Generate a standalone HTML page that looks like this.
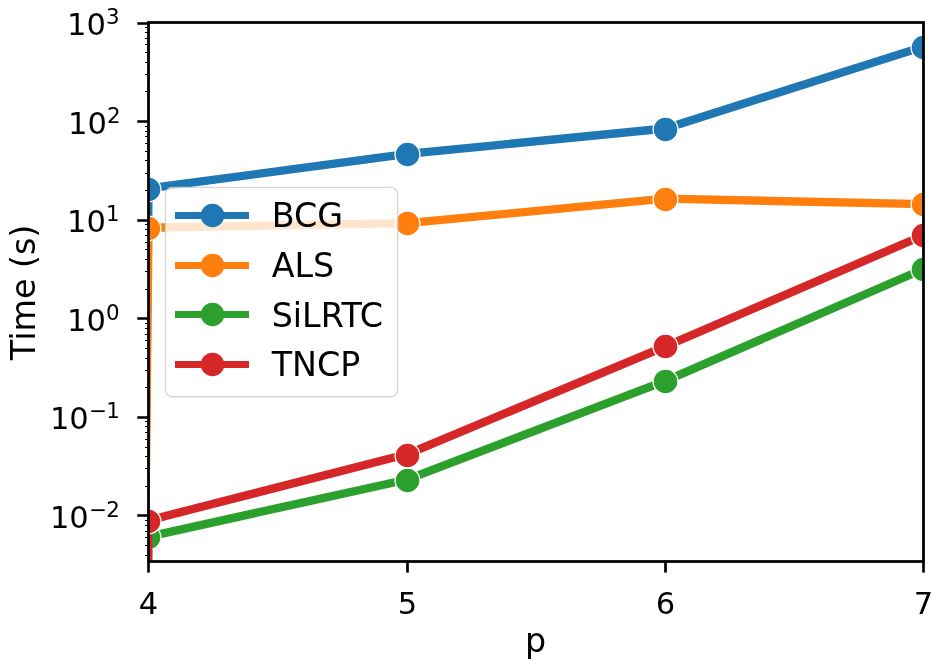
<!DOCTYPE html>
<html><head><meta charset="utf-8"><style>html,body{margin:0;padding:0;background:#fff;}svg{display:block;}</style></head>
<body>
<svg width="943" height="668" viewBox="0 0 943 668">
<defs><clipPath id="ax"><rect x="148.50" y="22.50" width="775.00" height="539.00"/></clipPath></defs>
<rect width="943" height="668" fill="#fff"/>
<g clip-path="url(#ax)">
<path d="M143.14 700.00 L148.50 188.40 L407.50 153.95 L665.50 128.50 L923.50 46.60" fill="none" stroke="#1f77b4" stroke-width="8.33" stroke-linejoin="round" stroke-linecap="butt"/>
<circle cx="148.50" cy="189.50" r="12.43" fill="#1f77b4" stroke="#fff" stroke-width="1.3"/>
<circle cx="407.50" cy="154.50" r="12.43" fill="#1f77b4" stroke="#fff" stroke-width="1.3"/>
<circle cx="665.50" cy="129.50" r="12.43" fill="#1f77b4" stroke="#fff" stroke-width="1.3"/>
<circle cx="923.50" cy="47.50" r="12.43" fill="#1f77b4" stroke="#fff" stroke-width="1.3"/>
<path d="M143.55 700.00 L148.50 227.74 L407.50 223.10 L665.50 198.70 L923.50 204.10" fill="none" stroke="#ff7f0e" stroke-width="8.33" stroke-linejoin="round" stroke-linecap="butt"/>
<circle cx="148.50" cy="228.50" r="12.43" fill="#ff7f0e" stroke="#fff" stroke-width="1.3"/>
<circle cx="407.50" cy="223.50" r="12.43" fill="#ff7f0e" stroke="#fff" stroke-width="1.3"/>
<circle cx="665.50" cy="199.50" r="12.43" fill="#ff7f0e" stroke="#fff" stroke-width="1.3"/>
<circle cx="923.50" cy="204.50" r="12.43" fill="#ff7f0e" stroke="#fff" stroke-width="1.3"/>
<path d="M146.78 700.00 L148.50 536.60 L407.50 479.45 L665.50 380.90 L923.50 268.95" fill="none" stroke="#2ca02c" stroke-width="8.33" stroke-linejoin="round" stroke-linecap="butt"/>
<circle cx="148.50" cy="537.50" r="12.43" fill="#2ca02c" stroke="#fff" stroke-width="1.3"/>
<circle cx="407.50" cy="480.50" r="12.43" fill="#2ca02c" stroke="#fff" stroke-width="1.3"/>
<circle cx="665.50" cy="381.50" r="12.43" fill="#2ca02c" stroke="#fff" stroke-width="1.3"/>
<circle cx="923.50" cy="269.50" r="12.43" fill="#2ca02c" stroke="#fff" stroke-width="1.3"/>
<path d="M146.61 700.00 L148.50 520.35 L407.50 454.05 L665.50 346.45 L923.50 235.30" fill="none" stroke="#d62728" stroke-width="8.33" stroke-linejoin="round" stroke-linecap="butt"/>
<circle cx="148.50" cy="521.50" r="12.43" fill="#d62728" stroke="#fff" stroke-width="1.3"/>
<circle cx="407.50" cy="455.50" r="12.43" fill="#d62728" stroke="#fff" stroke-width="1.3"/>
<circle cx="665.50" cy="346.50" r="12.43" fill="#d62728" stroke="#fff" stroke-width="1.3"/>
<circle cx="923.50" cy="235.50" r="12.43" fill="#d62728" stroke="#fff" stroke-width="1.3"/>
</g>
<g stroke="#000" fill="none">
<line x1="137.30" y1="515.50" x2="148.50" y2="515.50" stroke-width="2.55"/>
<line x1="137.30" y1="417.50" x2="148.50" y2="417.50" stroke-width="2.55"/>
<line x1="137.30" y1="318.50" x2="148.50" y2="318.50" stroke-width="2.55"/>
<line x1="137.30" y1="220.50" x2="148.50" y2="220.50" stroke-width="2.55"/>
<line x1="137.30" y1="121.50" x2="148.50" y2="121.50" stroke-width="2.55"/>
<line x1="137.30" y1="23.50" x2="148.50" y2="23.50" stroke-width="2.55"/>
<line x1="145.00" y1="555.50" x2="148.50" y2="555.50" stroke-width="1.05"/>
<line x1="145.00" y1="545.50" x2="148.50" y2="545.50" stroke-width="1.05"/>
<line x1="145.00" y1="537.50" x2="148.50" y2="537.50" stroke-width="1.05"/>
<line x1="145.00" y1="531.50" x2="148.50" y2="531.50" stroke-width="1.05"/>
<line x1="145.00" y1="525.50" x2="148.50" y2="525.50" stroke-width="1.05"/>
<line x1="145.00" y1="520.50" x2="148.50" y2="520.50" stroke-width="1.05"/>
<line x1="145.00" y1="486.50" x2="148.50" y2="486.50" stroke-width="1.05"/>
<line x1="145.00" y1="468.50" x2="148.50" y2="468.50" stroke-width="1.05"/>
<line x1="145.00" y1="456.50" x2="148.50" y2="456.50" stroke-width="1.05"/>
<line x1="145.00" y1="447.50" x2="148.50" y2="447.50" stroke-width="1.05"/>
<line x1="145.00" y1="439.50" x2="148.50" y2="439.50" stroke-width="1.05"/>
<line x1="145.00" y1="432.50" x2="148.50" y2="432.50" stroke-width="1.05"/>
<line x1="145.00" y1="426.50" x2="148.50" y2="426.50" stroke-width="1.05"/>
<line x1="145.00" y1="421.50" x2="148.50" y2="421.50" stroke-width="1.05"/>
<line x1="145.00" y1="387.50" x2="148.50" y2="387.50" stroke-width="1.05"/>
<line x1="145.00" y1="370.50" x2="148.50" y2="370.50" stroke-width="1.05"/>
<line x1="145.00" y1="358.50" x2="148.50" y2="358.50" stroke-width="1.05"/>
<line x1="145.00" y1="348.50" x2="148.50" y2="348.50" stroke-width="1.05"/>
<line x1="145.00" y1="340.50" x2="148.50" y2="340.50" stroke-width="1.05"/>
<line x1="145.00" y1="334.50" x2="148.50" y2="334.50" stroke-width="1.05"/>
<line x1="145.00" y1="328.50" x2="148.50" y2="328.50" stroke-width="1.05"/>
<line x1="145.00" y1="323.50" x2="148.50" y2="323.50" stroke-width="1.05"/>
<line x1="145.00" y1="289.50" x2="148.50" y2="289.50" stroke-width="1.05"/>
<line x1="145.00" y1="271.50" x2="148.50" y2="271.50" stroke-width="1.05"/>
<line x1="145.00" y1="259.50" x2="148.50" y2="259.50" stroke-width="1.05"/>
<line x1="145.00" y1="249.50" x2="148.50" y2="249.50" stroke-width="1.05"/>
<line x1="145.00" y1="242.50" x2="148.50" y2="242.50" stroke-width="1.05"/>
<line x1="145.00" y1="235.50" x2="148.50" y2="235.50" stroke-width="1.05"/>
<line x1="145.00" y1="229.50" x2="148.50" y2="229.50" stroke-width="1.05"/>
<line x1="145.00" y1="224.50" x2="148.50" y2="224.50" stroke-width="1.05"/>
<line x1="145.00" y1="190.50" x2="148.50" y2="190.50" stroke-width="1.05"/>
<line x1="145.00" y1="173.50" x2="148.50" y2="173.50" stroke-width="1.05"/>
<line x1="145.00" y1="160.50" x2="148.50" y2="160.50" stroke-width="1.05"/>
<line x1="145.00" y1="151.50" x2="148.50" y2="151.50" stroke-width="1.05"/>
<line x1="145.00" y1="143.50" x2="148.50" y2="143.50" stroke-width="1.05"/>
<line x1="145.00" y1="136.50" x2="148.50" y2="136.50" stroke-width="1.05"/>
<line x1="145.00" y1="131.50" x2="148.50" y2="131.50" stroke-width="1.05"/>
<line x1="145.00" y1="126.50" x2="148.50" y2="126.50" stroke-width="1.05"/>
<line x1="145.00" y1="91.50" x2="148.50" y2="91.50" stroke-width="1.05"/>
<line x1="145.00" y1="74.50" x2="148.50" y2="74.50" stroke-width="1.05"/>
<line x1="145.00" y1="62.50" x2="148.50" y2="62.50" stroke-width="1.05"/>
<line x1="145.00" y1="52.50" x2="148.50" y2="52.50" stroke-width="1.05"/>
<line x1="145.00" y1="44.50" x2="148.50" y2="44.50" stroke-width="1.05"/>
<line x1="145.00" y1="38.50" x2="148.50" y2="38.50" stroke-width="1.05"/>
<line x1="145.00" y1="32.50" x2="148.50" y2="32.50" stroke-width="1.05"/>
<line x1="145.00" y1="27.50" x2="148.50" y2="27.50" stroke-width="1.05"/>
<line x1="148.50" y1="561.50" x2="148.50" y2="572.60" stroke-width="2.7"/>
<line x1="407.50" y1="561.50" x2="407.50" y2="572.60" stroke-width="2.7"/>
<line x1="665.50" y1="561.50" x2="665.50" y2="572.60" stroke-width="2.7"/>
<line x1="923.50" y1="561.50" x2="923.50" y2="572.60" stroke-width="2.7"/>
<rect x="148.5" y="22.5" width="775.0" height="539.0" stroke-width="2.78" stroke-linejoin="miter"/>
</g>
<g font-family="DejaVu Sans, sans-serif" fill="#000">
<text x="148.5" y="613.5" font-size="30.56" text-anchor="middle">4</text>
<text x="407.5" y="613.5" font-size="30.56" text-anchor="middle">5</text>
<text x="665.5" y="613.5" font-size="30.56" text-anchor="middle">6</text>
<text x="923.5" y="613.5" font-size="30.56" text-anchor="middle">7</text>
<text x="67.05" y="34.90" font-size="30.56">10<tspan font-size="21.39" dy="-11">3</tspan></text>
<text x="68.05" y="134.00" font-size="30.56">10<tspan font-size="21.39" dy="-11">2</tspan></text>
<text x="67.05" y="231.80" font-size="30.56">10<tspan font-size="21.39" dy="-11">1</tspan></text>
<text x="67.05" y="330.90" font-size="30.56">10<tspan font-size="21.39" dy="-11">0</tspan></text>
<text x="49.95" y="428.80" font-size="30.56">10</text>
<text x="89.34" y="418.10" font-size="21.39">−</text>
<text x="106.26" y="417.80" font-size="21.39">1</text>
<text x="49.95" y="528.10" font-size="30.56">10</text>
<text x="89.34" y="517.40" font-size="21.39">−</text>
<text x="106.26" y="517.10" font-size="21.39">2</text>
<text x="535.6" y="651.8" font-size="33.33" text-anchor="middle">p</text>
<text transform="translate(34.8 292.4) rotate(-90)" font-size="33.33" text-anchor="middle">Time (s)</text>
</g>
<rect x="165.5" y="187.3" width="232.2" height="209.4" rx="7" fill="#fff" fill-opacity="0.8" stroke="#ccc" stroke-opacity="0.8" stroke-width="1.35"/>
<line x1="175.0" y1="215.5" x2="249.0" y2="215.5" stroke="#1f77b4" stroke-width="7.1"/>
<circle cx="212.5" cy="215.5" r="11.78" fill="#1f77b4"/>
<text x="271.7" y="226.6" font-family="DejaVu Sans, sans-serif" font-size="33.33">BCG</text>
<line x1="175.0" y1="265.5" x2="249.0" y2="265.5" stroke="#ff7f0e" stroke-width="7.1"/>
<circle cx="212.5" cy="265.5" r="11.78" fill="#ff7f0e"/>
<text x="271.7" y="277.0" font-family="DejaVu Sans, sans-serif" font-size="33.33">ALS</text>
<line x1="175.0" y1="314.5" x2="249.0" y2="314.5" stroke="#2ca02c" stroke-width="7.1"/>
<circle cx="212.5" cy="314.5" r="11.78" fill="#2ca02c"/>
<text x="271.7" y="326.7" font-family="DejaVu Sans, sans-serif" font-size="33.33">SiLRTC</text>
<line x1="175.0" y1="364.5" x2="249.0" y2="364.5" stroke="#d62728" stroke-width="7.1"/>
<circle cx="212.5" cy="364.5" r="11.78" fill="#d62728"/>
<text x="271.7" y="376.4" font-family="DejaVu Sans, sans-serif" font-size="33.33">TNCP</text>
</svg>
</body></html>
